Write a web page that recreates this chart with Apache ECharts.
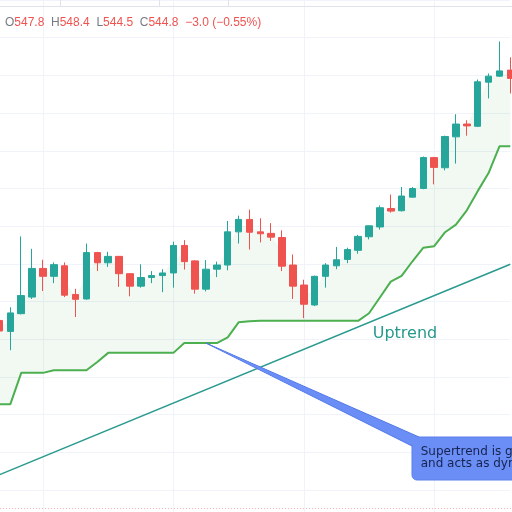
<!DOCTYPE html>
<html>
<head>
<meta charset="utf-8">
<style>
  html, body { margin: 0; padding: 0; background: #fff; }
  #main { width: 512px; height: 512px; }
</style>
</head>
<body>
<div id="main"></div>
<script src="https://cdn.jsdelivr.net/npm/echarts@6/dist/echarts.min.js"></script>
<script>
// candles, left to right
var categories = [];
for (var d = 1; d <= 48; d++) categories.push('D' + d);

var opens = [475.0, 472.1, 476.8, 481.2, 488.8, 486.7, 489.5, 481.9, 480.7, 493.0,
  490.3, 492.0, 487.4, 484.1, 486.4, 486.9, 487.6, 494.9, 490.8, 483.3,
  488.6, 489.7, 498.5, 501.8, 498.5, 498.1, 497.0, 489.7, 484.4, 479.1,
  486.7, 489.5, 491.2, 493.6, 497.2, 499.8, 504.7, 504.1, 507.7, 510.0,
  518.2, 515.5, 523.7, 527.1, 526.5, 538.2, 539.8, 541.4];
var closes = [472.2, 477.0, 481.6, 488.8, 486.7, 489.8, 481.7, 480.6, 493.0, 490.3,
  492.0, 487.4, 484.1, 486.4, 486.9, 487.6, 494.9, 490.6, 483.3, 488.6,
  489.7, 498.5, 501.8, 498.4, 498.0, 497.1, 489.4, 484.1, 479.3, 486.7,
  489.7, 491.1, 493.8, 497.3, 500.1, 504.9, 504.0, 508.0, 510.0, 518.2,
  515.6, 523.8, 527.1, 526.6, 538.3, 539.8, 541.2, 539.2];
var lows = [469.7, 467.1, 476.6, 480.7, 482.8, 484.9, 481.2, 475.9, 480.5, 488.1,
  489.2, 483.9, 481.4, 483.7, 484.9, 482.5, 483.7, 488.5, 482.1, 482.7,
  486.5, 488.3, 495.4, 493.8, 495.7, 496.1, 488.1, 480.7, 475.6, 478.8,
  483.7, 488.6, 490.2, 492.7, 496.5, 499.1, 503.6, 503.9, 507.6, 509.8,
  511.1, 514.8, 516.6, 524.0, 526.3, 533.9, 539.6, 535.2];
var highs = [476.4, 478.5, 497.3, 494.0, 491.1, 490.4, 490.4, 483.4, 495.4, 493.2,
  493.2, 492.1, 487.5, 489.9, 488.1, 488.6, 495.9, 496.3, 491.0, 491.0,
  490.6, 501.4, 502.8, 504.4, 502.1, 500.8, 498.9, 492.5, 485.8, 486.9,
  490.2, 494.5, 494.3, 497.7, 500.2, 505.5, 508.4, 510.4, 510.4, 518.5,
  518.4, 524.0, 529.7, 528.1, 538.9, 540.5, 549.0, 544.8];

// supertrend (up) line
var supertrend = [452.8, 452.8, 461.1, 461.1, 461.1, 461.8, 461.8, 461.8, 461.8, 464.0,
  466.4, 466.4, 466.4, 466.4, 466.4, 466.4, 466.4, 469.0, 469.0, 469.0,
  469.0, 470.5, 474.5, 474.8, 474.9, 474.9, 474.9, 474.9, 474.9, 474.9,
  474.9, 474.9, 474.9, 474.9, 476.9, 481.1, 485.3, 486.8, 490.7, 494.3,
  494.7, 498.4, 500.4, 504.2, 509.3, 514.1, 521.2, 521.2];

// hand drawn trend line: value at first and last candle
var trendLine = [434.1, 489.9];

var headerLabels = ['O', 'H', 'L', 'C'];
var headerValues = ['547.8', '548.4', '544.5', '544.8'];
var headerChange = '\u22123.0 (\u22120.55%)';

var calloutAt = 19;
var calloutLines = ['Supertrend is green', 'and acts as dynamic support'];

var UP = '#26a69a', DOWN = '#ef5350';

var candles = opens.map(function (o, i) { return [o, closes[i], lows[i], highs[i]]; });
// fill between supertrend and body middle
var band = opens.map(function (o, i) { return +(((o + closes[i]) / 2) - supertrend[i]).toFixed(2); });

var chart = echarts.init(document.getElementById('main'));

chart.setOption({
  animation: false,
  backgroundColor: '#ffffff',
  grid: { left: -0.5, width: 510.8, top: 0, height: 527.8, outerBoundsMode: 'none' },
  xAxis: {
    type: 'category',
    data: categories,
    boundaryGap: false,
    axisLine: { show: false },
    axisTick: { show: false },
    axisLabel: { show: false },
    splitLine: {
      show: true,
      interval: function (index) { return index % 12 === 4; },
      lineStyle: { color: '#f0f3fa', width: 1 }
    }
  },
  yAxis: {
    type: 'value',
    min: 420,
    max: 560,
    interval: 10,
    axisLine: { show: false },
    axisTick: { show: false },
    axisLabel: { show: false },
    splitLine: { lineStyle: { color: '#f0f3fa', width: 1 } }
  },
  series: [
    {
      name: 'Supertrend',
      type: 'line',
      stack: 'st',
      data: supertrend,
      symbol: 'none',
      lineStyle: { color: '#4caf50', width: 2 },
      z: 3
    },
    {
      name: 'Fill',
      type: 'line',
      stack: 'st',
      data: band,
      symbol: 'none',
      lineStyle: { width: 0, opacity: 0 },
      areaStyle: { color: 'rgba(76,175,80,0.1)' },
      z: 1
    },
    {
      name: 'Trend',
      type: 'line',
      data: [[categories[0], trendLine[0]], [categories[categories.length - 1], trendLine[1]]],
      symbol: 'none',
      lineStyle: { color: '#2a9a8e', width: 1.5 },
      z: 2
    },
    {
      name: 'Price',
      type: 'candlestick',
      data: candles,
      barWidth: 7,
      clip: false,
      itemStyle: {
        color: UP,
        color0: DOWN,
        borderColor: UP,
        borderColor0: DOWN,
        borderWidth: 1
      },
      z: 4
    }
  ]
});

var anchor = chart.convertToPixel({ seriesIndex: 0 }, [categories[calloutAt], supertrend[calloutAt]]);

var headerText = headerLabels.map(function (l, i) {
  return '{l|' + l + '}{v|' + headerValues[i] + '}';
}).join('  ') + '  {v|' + headerChange + '}';

chart.setOption({
  graphic: [
    { type: 'line', shape: { x1: 0, y1: 6.5, x2: 512, y2: 6.5 }, style: { stroke: '#e0e3eb', lineWidth: 1 } },
    { type: 'line', shape: { x1: 60.5, y1: 0, x2: 60.5, y2: 6.5 }, style: { stroke: '#e0e3eb', lineWidth: 1 } },
    { type: 'line', shape: { x1: 159.5, y1: 0, x2: 159.5, y2: 6.5 }, style: { stroke: '#e0e3eb', lineWidth: 1 } },
    { type: 'line', shape: { x1: 228.5, y1: 0, x2: 228.5, y2: 6.5 }, style: { stroke: '#e0e3eb', lineWidth: 1 } },
    { type: 'line', shape: { x1: 0, y1: 508.5, x2: 512, y2: 508.5 }, style: { stroke: '#f6b3b1', lineWidth: 1, lineDash: [1, 2] } },
    {
      type: 'text', x: 5, y: 23,
      style: {
        text: headerText,
        verticalAlign: 'middle',
        font: '12px "Liberation Sans", Arial, sans-serif',
        rich: {
          l: { fill: '#787b86', fontSize: 12 },
          v: { fill: '#ef5350', fontSize: 12 }
        }
      }
    },
    {
      type: 'text', x: 372.7, y: 326,
      style: {
        text: 'Uptrend',
        fill: '#26998c',
        font: '16px "DejaVu Sans", sans-serif',
        verticalAlign: 'top'
      },
      z: 10
    },
    {
      type: 'polygon',
      shape: { points: [[anchor[0], anchor[1]], [419, 437], [412, 446]] },
      style: { fill: '#6a8ef5', stroke: '#4f76e6', lineWidth: 1 },
      z: 10
    },
    {
      type: 'rect',
      shape: { x: 412, y: 437, width: 160, height: 43, r: 5 },
      style: { fill: '#6a8ef5', stroke: '#5a80ea', lineWidth: 1 },
      z: 11
    },
    {
      type: 'polygon',
      shape: { points: [[anchor[0] + 4, anchor[1] + 2], [419.5, 438], [413, 445]] },
      style: { fill: '#6a8ef5' },
      z: 12
    },
    {
      type: 'text', x: 420.7, y: 446.5,
      style: {
        text: calloutLines.join('\n'),
        fill: '#17234f',
        fontSize: 12,
        fontFamily: 'DejaVu Sans',
        lineHeight: 11.6,
        verticalAlign: 'top'
      },
      z: 13
    }
  ]
});
</script>
</body>
</html>
